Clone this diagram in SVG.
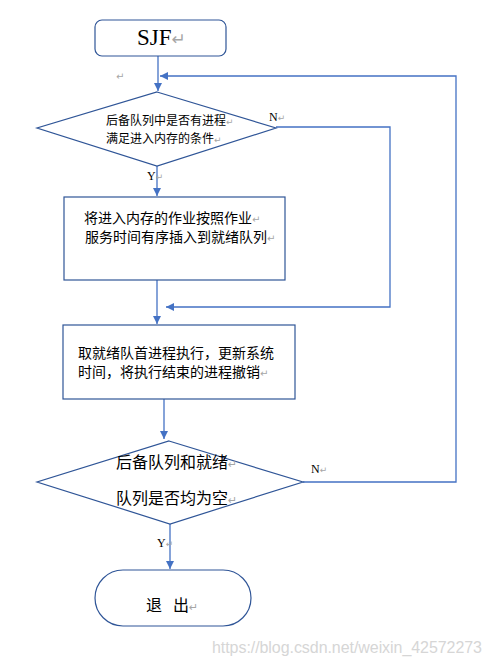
<svg xmlns="http://www.w3.org/2000/svg" width="492" height="667" viewBox="0 0 492 667">
<style>
.shape{fill:#fff;stroke:#2F5597;stroke-width:1.2}
.conn{fill:none;stroke:#4472C4;stroke-width:1.3}
.cn{font-family:"Noto Sans CJK SC","Noto Sans",sans-serif;fill:#000}
.ser{font-family:"Liberation Serif",serif;fill:#000}
.pm{font-family:"DejaVu Sans",sans-serif;fill:#a6a6a6}
.wm{font-family:"Liberation Sans",Arial,sans-serif;fill:#d6d6d6}
</style>
<defs>
<marker id="arr" markerUnits="userSpaceOnUse" markerWidth="9" markerHeight="8" refX="8" refY="4" orient="auto">
<path d="M0,0 L8,4 L0,8 z" fill="#4472C4"/>
</marker>
</defs>
<rect width="492" height="667" fill="#fff"/>
<g id="connectors">
<path class="conn" d="M158,56 V91" marker-end="url(#arr)"/>
<path class="conn" d="M303,482 H456 V76 H160" marker-end="url(#arr)"/>
<path class="conn" d="M157,166 V196" marker-end="url(#arr)"/>
<path class="conn" d="M276,127 H390 V307 H166" marker-end="url(#arr)"/>
<path class="conn" d="M157,280 V324" marker-end="url(#arr)"/>
<path class="conn" d="M164,399 V439" marker-end="url(#arr)"/>
<path class="conn" d="M170,524 V569" marker-end="url(#arr)"/>
<text class="ser" x="269" y="121" font-size="12">N<tspan class="pm" font-size="9">↵</tspan></text>
<text class="ser" x="147" y="180" font-size="12">Y<tspan class="pm" font-size="9">↵</tspan></text>
<text class="ser" x="311" y="473" font-size="12">N<tspan class="pm" font-size="9">↵</tspan></text>
<text class="ser" x="157" y="547" font-size="12">Y<tspan class="pm" font-size="9">↵</tspan></text>
<text class="pm" x="116" y="80" font-size="10">↵</text>
</g>
<g id="start">
<rect class="shape" x="95" y="20" width="131" height="36" rx="7"/>
<text class="ser" x="137" y="45" font-size="23">SJF<tspan class="pm" font-size="17">↵</tspan></text>
</g>
<g id="decision1">
<polygon class="shape" points="157,92 276,128 157,166 37,128"/>
<text class="cn" x="106" y="125" font-size="12">后备队列中是否有进程<tspan class="pm" font-size="9">↵</tspan></text>
<text class="cn" x="106" y="143" font-size="12">满足进入内存的条件<tspan class="pm" font-size="9">↵</tspan></text>
</g>
<g id="insert">
<rect class="shape" x="64" y="197" width="221" height="83"/>
<text class="cn" x="84" y="223" font-size="14">将进入内存的作业按照作业<tspan class="pm" font-size="10">↵</tspan></text>
<text class="cn" x="85" y="242" font-size="14">服务时间有序插入到就绪队列<tspan class="pm" font-size="10">↵</tspan></text>
</g>
<g id="execute">
<rect class="shape" x="63" y="325" width="232" height="74"/>
<text class="cn" x="78" y="358" font-size="14">取就绪队首进程执行，更新系统</text>
<text class="cn" x="78" y="377" font-size="14">时间，将执行结束的进程撤销<tspan class="pm" font-size="10">↵</tspan></text>
</g>
<g id="decision2">
<polygon class="shape" points="169,441 303,482 170,524 37,482"/>
<text class="cn" x="116" y="468" font-size="16">后备队列和就绪<tspan class="pm" font-size="11">↵</tspan></text>
<text class="cn" x="116" y="504" font-size="16">队列是否均为空<tspan class="pm" font-size="11">↵</tspan></text>
</g>
<g id="exit">
<rect class="shape" x="95" y="570" width="156" height="56" rx="28"/>
<text class="cn" x="146" y="611" font-size="16" fill="#333">退<tspan dx="11">出</tspan><tspan class="pm" font-size="11">↵</tspan></text>
</g>
<text class="wm" x="212" y="653" font-size="16" textLength="270">https://blog.csdn.net/weixin_42572273</text>
</svg>
